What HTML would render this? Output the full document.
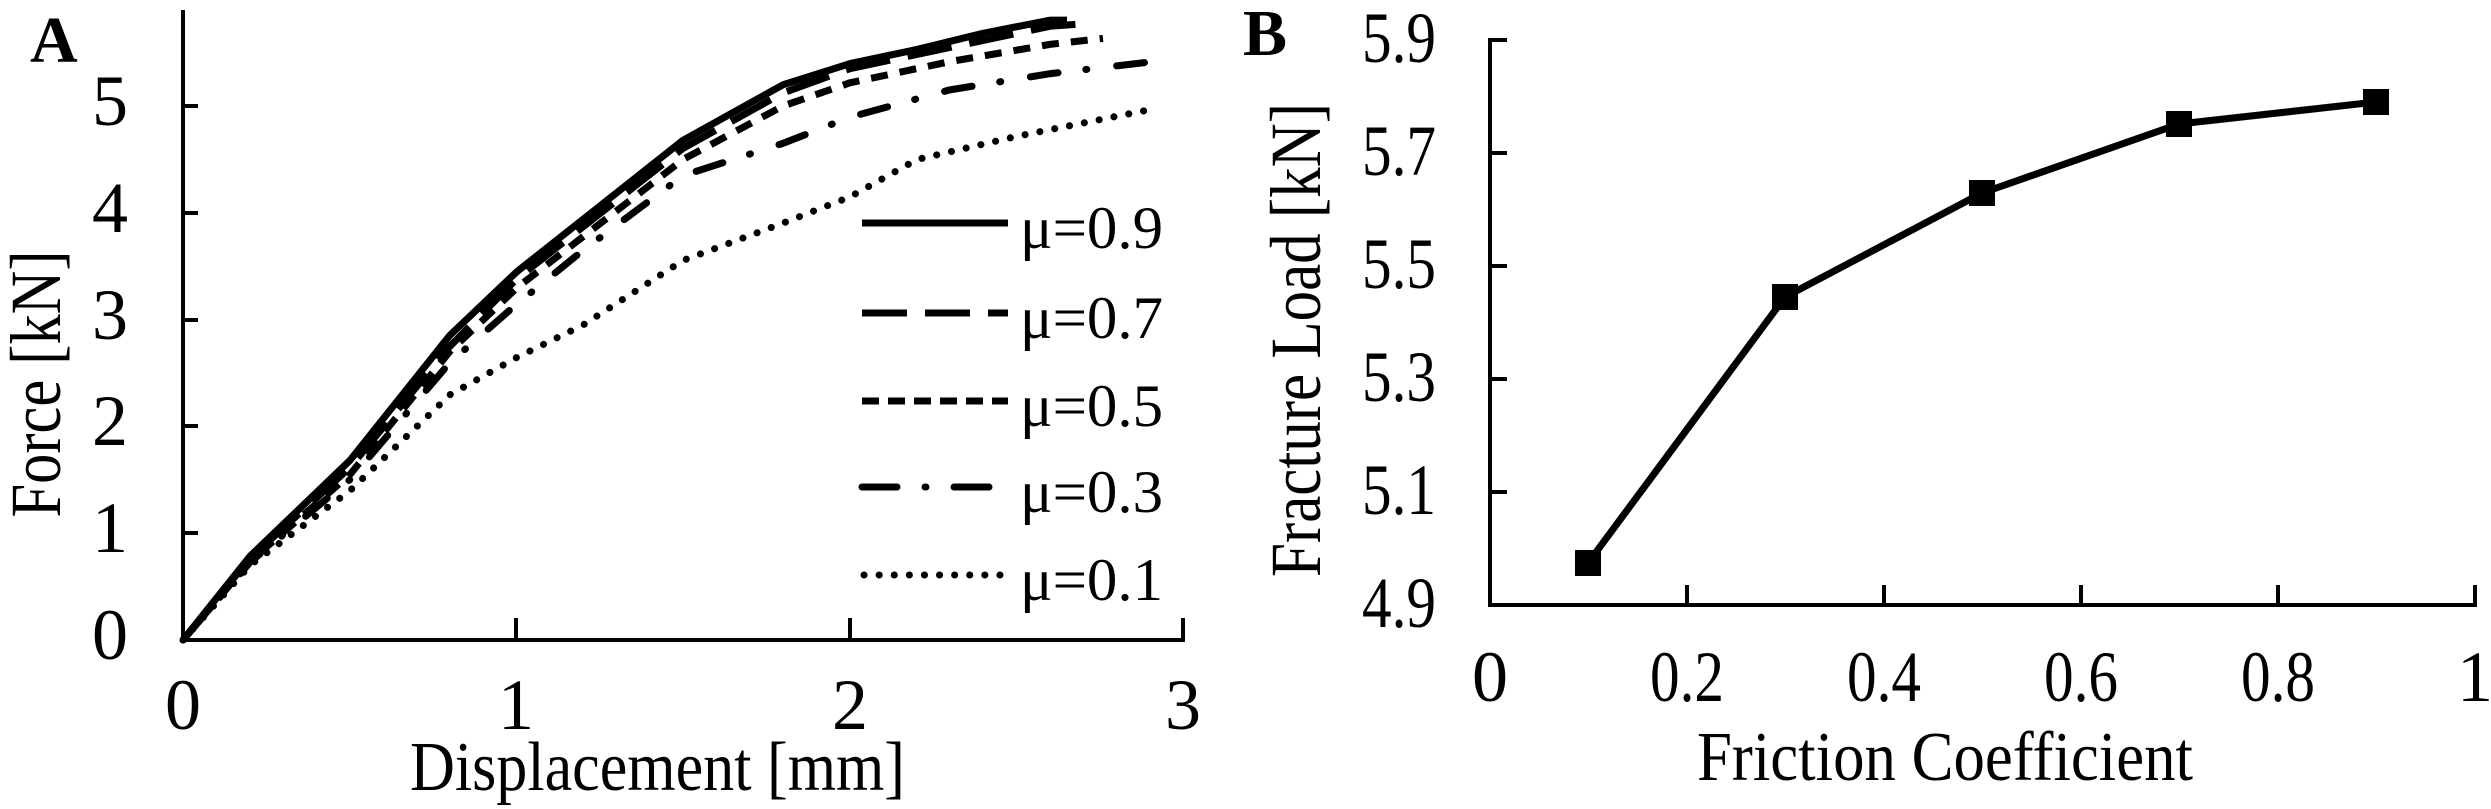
<!DOCTYPE html>
<html><head><meta charset="utf-8"><style>
html,body{margin:0;padding:0;background:#fff;}
svg{display:block;font-family:"Liberation Serif",serif;}
</style></head><body>
<svg width="2491" height="809" viewBox="0 0 2491 809" xmlns="http://www.w3.org/2000/svg">
<rect width="2491" height="809" fill="#fff"/>
<!-- Panel A -->
<text x="30" y="62" font-size="66" font-weight="bold">A</text>
<g stroke="#000" stroke-width="4" fill="none">
<polyline points="183,10 183,640 1183,640 1183,618"/>
<line x1="516" y1="640" x2="516" y2="618"/><line x1="850" y1="640" x2="850" y2="618"/>
<line x1="183" y1="533" x2="198" y2="533"/><line x1="183" y1="426" x2="198" y2="426"/>
<line x1="183" y1="320" x2="198" y2="320"/><line x1="183" y1="213" x2="198" y2="213"/>
<line x1="183" y1="106" x2="198" y2="106"/>
</g>
<g font-size="72" text-anchor="end">
<text x="128" y="659">0</text><text x="128" y="552">1</text><text x="128" y="445">2</text>
<text x="128" y="339">3</text><text x="128" y="232">4</text><text x="128" y="125">5</text>
</g>
<g font-size="72" text-anchor="middle">
<text x="183" y="729">0</text><text x="516" y="729">1</text><text x="850" y="729">2</text><text x="1183" y="729">3</text>
</g>
<text x="410" y="790" font-size="70" textLength="495" lengthAdjust="spacingAndGlyphs">Displacement [mm]</text>
<text transform="translate(60,384) rotate(-90)" font-size="72" text-anchor="middle" textLength="267" lengthAdjust="spacingAndGlyphs">Force [kN]</text>
<g fill="none" stroke="#000" stroke-width="7" stroke-linejoin="round" transform="scale(1,1.0095)">
<polyline points="183,634 250,551 350,456 450,332 517,269 683,139 783,84 850,63 917,49 983,33 1050,20 1067,20"/>
<polyline stroke-dasharray="45,18" points="183,634 250,553 350,463 450,343 517,276 683,147 783,92 850,68 950,47 1050,26 1077,24"/>
<polyline stroke-dasharray="17,12" points="183,634 250,556 350,470 450,348 517,285 683,158 783,105 850,82 950,61 1050,44 1103,38"/>
<polyline stroke-dasharray="28,28,1,30" stroke-linecap="round" points="183,634 250,557 350,475 450,359 517,301 583,248 683,174 783,142 850,116 950,89 1050,73 1153,61"/>
<polyline stroke-dasharray="0.1,15" stroke-linecap="round" points="183,634 250,560 350,486 450,391 517,354 583,322 683,258 783,221 850,195 917,158 1017,135 1153,108"/>
</g>
<g stroke="#000" stroke-width="7" fill="none">
<line x1="862" y1="223" x2="1008" y2="223"/>
<line x1="862" y1="313" x2="1008" y2="313" stroke-dasharray="45,18"/>
<line x1="862" y1="401" x2="1008" y2="401" stroke-dasharray="17,9"/>
<line x1="862" y1="487" x2="1008" y2="487" stroke-dasharray="35,28,1,28" stroke-linecap="round"/>
<line x1="864" y1="575" x2="1008" y2="575" stroke-dasharray="0.1,15" stroke-linecap="round"/>
</g>
<g font-size="60">
<text x="1020" y="248" textLength="143" lengthAdjust="spacingAndGlyphs">μ=0.9</text>
<text x="1020" y="338" textLength="143" lengthAdjust="spacingAndGlyphs">μ=0.7</text>
<text x="1020" y="426" textLength="143" lengthAdjust="spacingAndGlyphs">μ=0.5</text>
<text x="1020" y="512" textLength="143" lengthAdjust="spacingAndGlyphs">μ=0.3</text>
<text x="1020" y="600" textLength="143" lengthAdjust="spacingAndGlyphs">μ=0.1</text>
</g>
<!-- Panel B -->
<text x="1243" y="55" font-size="66" font-weight="bold">B</text>
<g stroke="#000" stroke-width="4" fill="none">
<polyline points="1507,40 1490,40 1490,605 2475,605 2475,585"/>
<line x1="1687" y1="605" x2="1687" y2="585"/><line x1="1884" y1="605" x2="1884" y2="585"/>
<line x1="2081" y1="605" x2="2081" y2="585"/><line x1="2278" y1="605" x2="2278" y2="585"/>
<line x1="1490" y1="492" x2="1507" y2="492"/><line x1="1490" y1="379" x2="1507" y2="379"/>
<line x1="1490" y1="266" x2="1507" y2="266"/><line x1="1490" y1="153" x2="1507" y2="153"/>
</g>
<g font-size="72" text-anchor="end">
<text x="1436" y="627" textLength="74" lengthAdjust="spacingAndGlyphs">4.9</text>
<text x="1436" y="514" textLength="74" lengthAdjust="spacingAndGlyphs">5.1</text>
<text x="1436" y="401" textLength="74" lengthAdjust="spacingAndGlyphs">5.3</text>
<text x="1436" y="288" textLength="74" lengthAdjust="spacingAndGlyphs">5.5</text>
<text x="1436" y="175" textLength="74" lengthAdjust="spacingAndGlyphs">5.7</text>
<text x="1436" y="62" textLength="74" lengthAdjust="spacingAndGlyphs">5.9</text>
</g>
<g font-size="72" text-anchor="middle">
<text x="1490" y="701">0</text>
<text x="1687" y="701" textLength="74" lengthAdjust="spacingAndGlyphs">0.2</text>
<text x="1884" y="701" textLength="74" lengthAdjust="spacingAndGlyphs">0.4</text>
<text x="2081" y="701" textLength="74" lengthAdjust="spacingAndGlyphs">0.6</text>
<text x="2278" y="701" textLength="74" lengthAdjust="spacingAndGlyphs">0.8</text>
<text x="2475" y="701">1</text>
</g>
<text x="1697" y="780" font-size="70" textLength="496" lengthAdjust="spacingAndGlyphs">Friction Coefficient</text>
<text transform="translate(1320,340) rotate(-90)" font-size="72" text-anchor="middle" textLength="474" lengthAdjust="spacingAndGlyphs">Fracture Load [kN]</text>
<polyline fill="none" stroke="#000" stroke-width="7" stroke-linejoin="round" points="1588,563 1785,297 1982,193 2179,124 2376,102"/>
<g fill="#000">
<rect x="1575" y="550" width="26" height="26"/>
<rect x="1772" y="284" width="26" height="26"/>
<rect x="1969" y="180" width="26" height="26"/>
<rect x="2166" y="111" width="26" height="26"/>
<rect x="2363" y="89" width="26" height="26"/>
</g>
</svg>
</body></html>
